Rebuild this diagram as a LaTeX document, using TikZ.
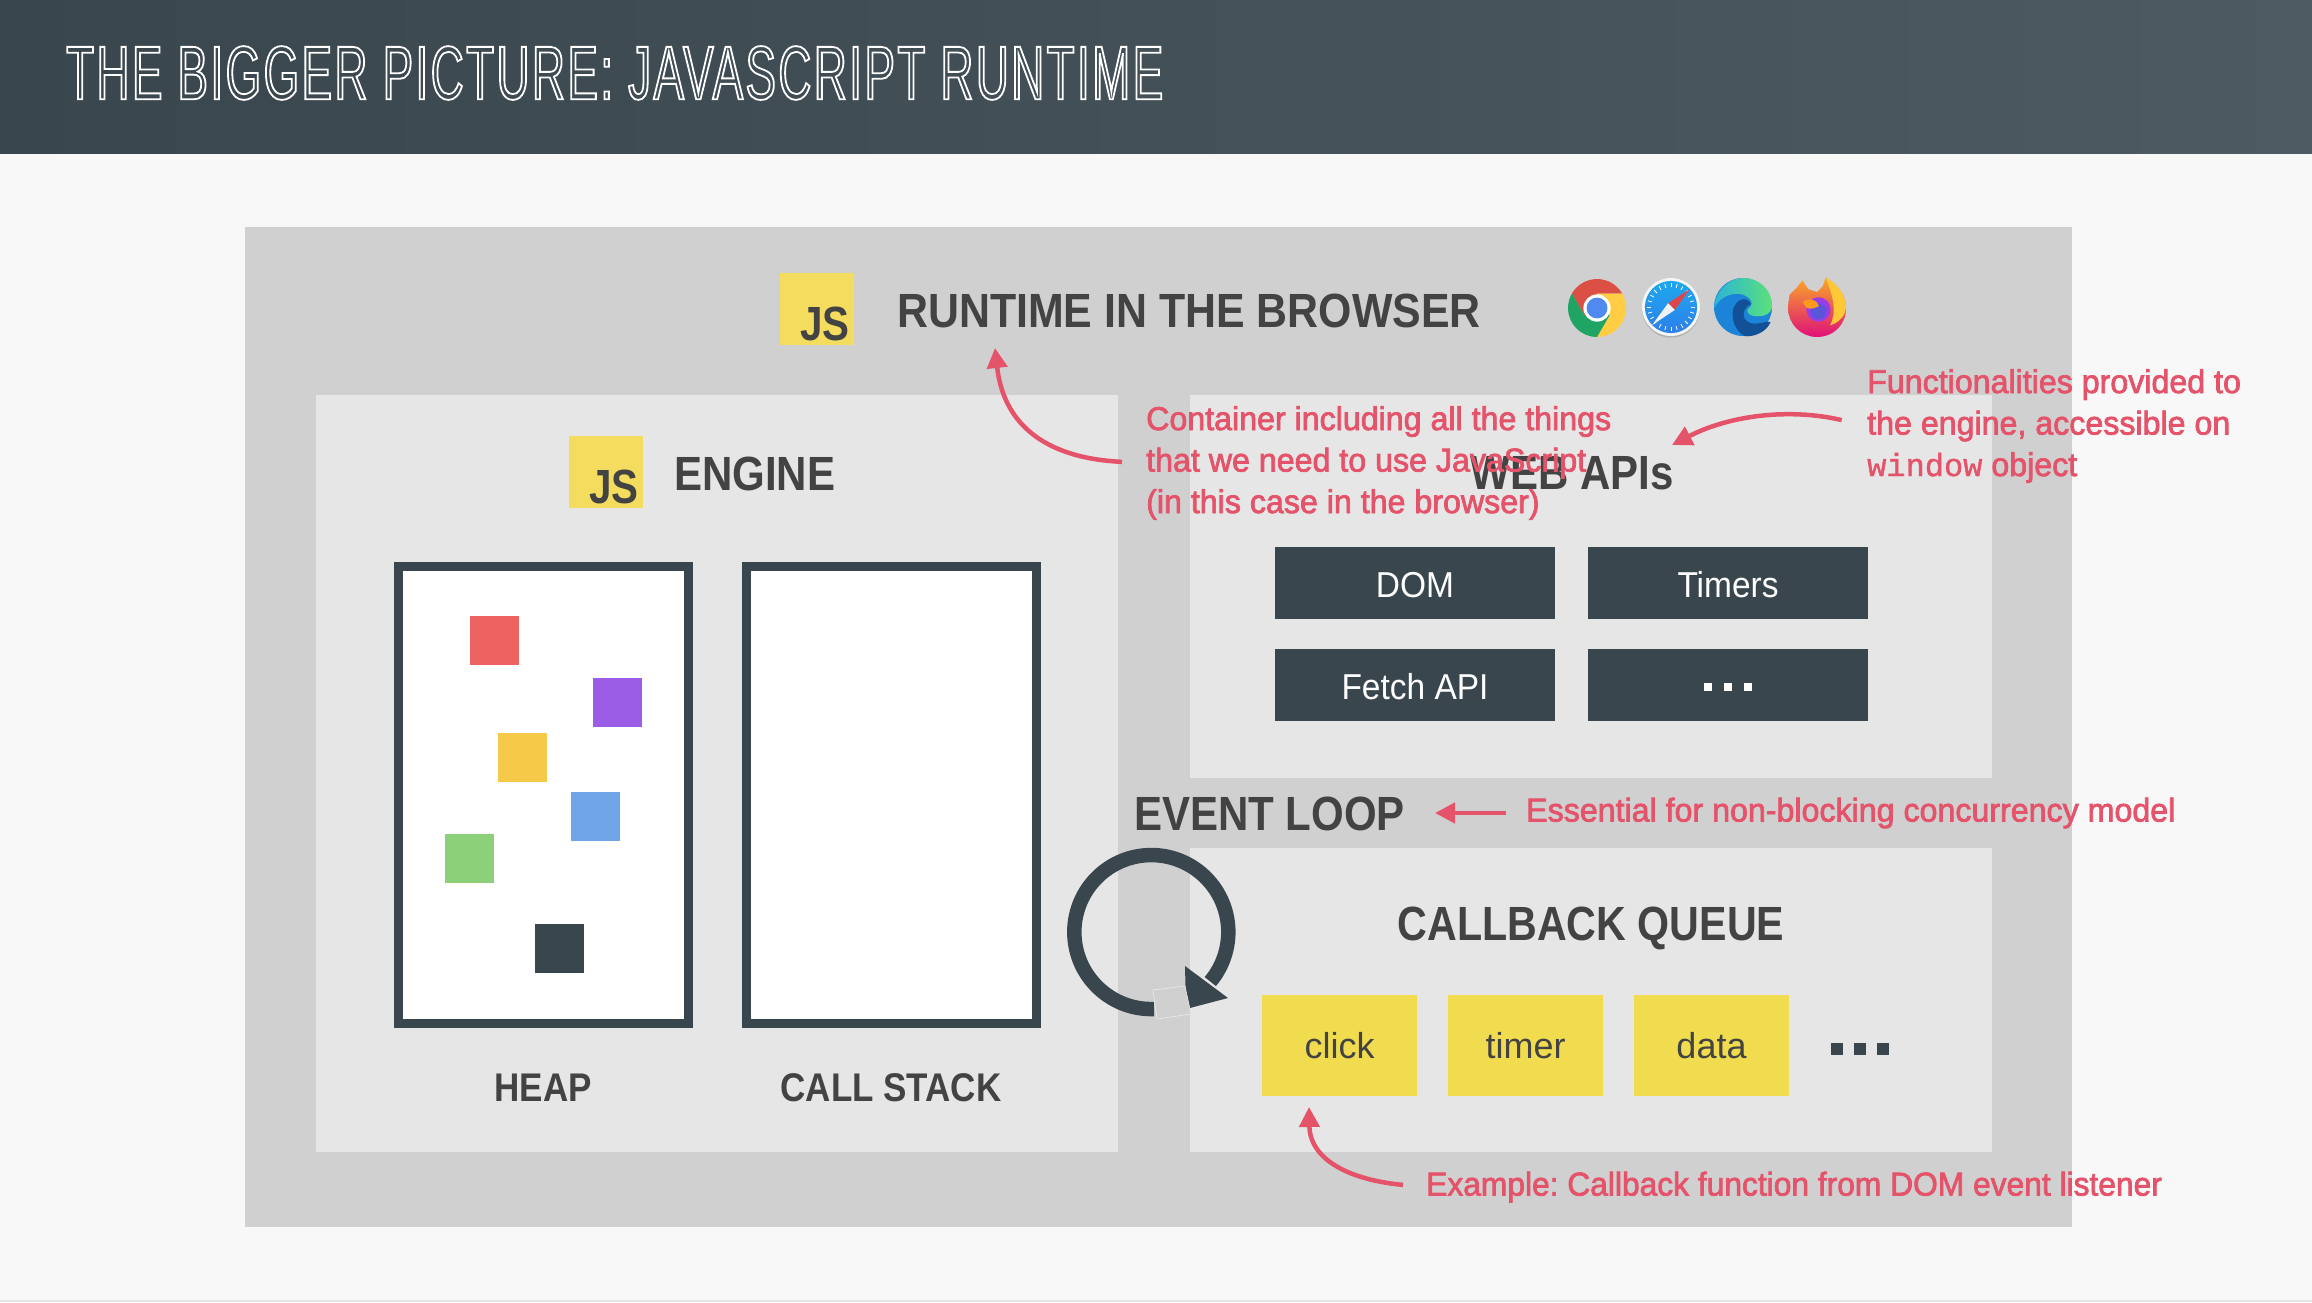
\documentclass[tikz,border=0pt]{standalone}
\usepackage{fontspec}
\setmainfont{Liberation Sans}
\newfontfamily\headfont{Liberation Sans}[FakeStretch=.875]
\newfontfamily\runtimefont{Liberation Sans}[FakeStretch=.893]
\newfontfamily\queuefont{Liberation Sans}[FakeStretch=.858]
\newfontfamily\jsfont{Liberation Sans}[FakeStretch=.84]
\newfontfamily\boxfont{Liberation Sans}[FakeStretch=.93]
\newfontfamily\notefont{Liberation Sans}[FakeStretch=.975,FakeBold=2.2]
\newfontfamily\examplefont{Liberation Sans}[FakeStretch=.962,FakeBold=2.2]
\newfontfamily\codefont{Liberation Mono}[FakeBold=1.2]
\newfontfamily\titlefont{Liberation Sans}[FakeStretch=.6,LetterSpace=3.3]
\usetikzlibrary{arrows.meta}
\definecolor{slate}{HTML}{3A464E}
\definecolor{slatelight}{HTML}{4C5A62}
\definecolor{pagebg}{HTML}{F8F8F8}
\definecolor{outerbg}{HTML}{D0D0D0}
\definecolor{innerbg}{HTML}{E6E6E6}
\definecolor{jsyellow}{HTML}{F4DD5E}
\definecolor{cbyellow}{HTML}{F0DC4E}
\definecolor{inktext}{HTML}{434343}
\definecolor{notered}{HTML}{E4536A}
\definecolor{edgeteal}{HTML}{2BB5D8}
\definecolor{edgegreen}{HTML}{5BE07A}
\definecolor{edgeblue}{HTML}{1B84D8}
\definecolor{edgedark}{HTML}{125098}
\definecolor{foxtop}{HTML}{F9A825}
\definecolor{foxmid}{HTML}{FF5B3A}
\definecolor{foxlow}{HTML}{E0107A}
\definecolor{foxflame}{HTML}{FFC837}
\definecolor{foxviolet}{HTML}{9A3DE8}
\definecolor{foxcore}{HTML}{5B55D8}
\definecolor{foxtail}{HTML}{FF9A1E}
\definecolor{safaritop}{HTML}{1EA8EE}
\definecolor{safarilow}{HTML}{2E7FEA}
\definecolor{safarired}{HTML}{E0454A}
\definecolor{chromeblue}{HTML}{4F8AF0}
\tikzset{
headlabel/.style = {font=\headfont\fontsize{48}{48}\selectfont\bfseries, text=inktext, inner sep=0pt},
smalllabel/.style = {font=\headfont\fontsize{40}{40}\selectfont\bfseries, text=inktext, inner sep=0pt},
memorybox/.style = {draw=slate, fill=white, line width=9pt, minimum width=290pt, minimum height=457pt, inner sep=0pt},
jsbox/.style = {fill=jsyellow, minimum width=74pt, minimum height=72pt, inner sep=0pt},
webbox/.style = {fill=slate, text=white, minimum width=280pt, minimum height=72pt, inner sep=0pt,
                 text height=29pt, text depth=0pt, font=\boxfont\fontsize{36}{36}\selectfont},
taskbox/.style = {fill=cbyellow, text=inktext, minimum width=155pt, minimum height=101pt, inner sep=0pt,
                  text height=26pt, text depth=0pt, font=\fontsize{36}{36}\selectfont},
heapitem/.style = {minimum size=49pt, inner sep=0pt},
notetext/.style = {font=\notefont\fontsize{33}{41.5}\selectfont, text=notered, inner sep=0pt, align=left},
notearrow/.style = {draw=notered, line width=4.5pt, -{Triangle[length=20pt,width=20pt]}}
}
\newcommand{\jslogo}[1]{\node[font=\jsfont\fontsize{48}{48}\selectfont\bfseries, text=inktext, inner sep=0pt, anchor=south east] at (#1) {JS};}
\begin{document}
\frenchspacing
\begin{tikzpicture}[x=1pt, y=-1pt]
\useasboundingbox (0,0) rectangle (2312,1302);
\fill[pagebg] (0,0) rectangle (2312,1302);
\fill[innerbg] (0,1300) rectangle (2312,1302);
\shade[left color=slate, right color=slatelight] (0,0) rectangle (2312,153);
\node[font=\titlefont\fontsize{76}{76}\selectfont, text=white, anchor=west, inner sep=0pt] (pagetitle) at (66,73)
    {\special{pdf:code 1 Tr 1.8 w}THE BIGGER PICTURE: JAVASCRIPT RUNTIME\special{pdf:code 0 Tr}};
%
\fill[outerbg] (245,227) rectangle (2072,1227);
\fill[innerbg] (316,395) rectangle (1118,1152);
\fill[innerbg] (1190,395) rectangle (1992,778);
\fill[innerbg] (1190,848) rectangle (1992,1152);
% title row
\node[jsbox] (runtimejs) at (817,309) {};
\jslogo{850,341}
\node[headlabel, anchor=west, font=\runtimefont\fontsize{48}{48}\selectfont\bfseries] (runtimetitle) at (897,311) {RUNTIME IN THE BROWSER};
%
\begin{scope}[shift={(1597,308)}, x=29pt, y=29pt]
\foreach \r/\c in {0/DB4F45, -120/FFCC43, 120/20A464} {
    \definecolor{piece}{HTML}{\c}
    \fill[piece, rotate=\r] (150:1) arc[start angle=150, end angle=30, radius=1] -- (0,.5) -- (0,0) -- (-.433,-.25) -- cycle;
}
\fill[white] (0,0) circle[radius=.47];
\fill[chromeblue] (0,0) circle[radius=.36];
\end{scope}
%
\begin{scope}[shift={(1671,307)}, x=29pt, y=29pt]
\fill[gray!60] (0,-.06) circle[radius=1];
\fill[white!92!gray] (0,0) circle[radius=1];
\shade[top color=safaritop, bottom color=safarilow] (0,0) circle[radius=.9];
\foreach \a in {0,15,...,345}
    \draw[white, line width=.8pt] (\a:.68) -- (\a:.82);
\fill[safarired] (.65,.62) -- (-.1,.13) -- (.13,-.1) -- cycle;
\fill[white!90!gray] (-.65,-.62) -- (-.1,.13) -- (.13,-.1) -- cycle;
\end{scope}
%
\begin{scope}[shift={(1743,307)}, x=29pt, y=29pt]
\fill[edgeblue] (0,0) circle[radius=1];
\shade[left color=edgeteal, right color=edgegreen]
    (-1,-.05) .. controls (-.95,.6) and (-.45,1) .. (0,1) .. controls (.6,1) and (1,.55) .. (1,.05)
    .. controls (1,-.2) and (.8,-.32) .. (.5,-.32) .. controls (.25,-.32) and (.12,-.22) .. (.15,-.1)
    .. controls (.3,.05) and (.4,.15) .. (.15,.35) .. controls (-.2,.6) and (-.8,.4) .. cycle;
\fill[edgedark]
    (-.35,-.1) .. controls (-.25,.25) and (.1,.42) .. (.28,.1) .. controls (.1,.05) and (-.05,-.2) .. (.05,-.4)
    .. controls (.3,-.75) and (.75,-.45) .. (.95,-.52) .. controls (.8,-.9) and (.3,-1.05) .. (.05,-1)
    .. controls (-.25,-.85) and (-.4,-.45) .. cycle;
\end{scope}
%
\begin{scope}[shift={(1817,308)}, x=29pt, y=29pt]
\shade[top color=foxtop, middle color=foxmid, bottom color=foxlow]
    (-.95,.45) -- (-.72,.68) -- (-.5,.95) -- (-.3,.65) -- (0,.55) -- (.2,.75) -- (.3,1.05)
    .. controls (.75,.8) and (1,.4) .. (1,0) .. controls (1,-.6) and (.55,-1) .. (0,-1)
    .. controls (-.55,-1) and (-1,-.55) .. (-1,0) -- cycle;
\fill[foxflame] (.3,1.05) .. controls (.75,.8) and (1,.4) .. (1,0) .. controls (.95,-.4) and (.6,-.55) .. (.45,-.6)
    .. controls (.7,-.1) and (.55,.4) .. cycle;
\fill[foxviolet] (.05,-.05) circle[radius=.42];
\fill[foxcore] (.05,-.12) circle[radius=.28];
\fill[foxtail] (-.5,.2) .. controls (-.2,.45) and (.1,.15) .. (.05,.05) .. controls (-.1,.0) and (-.2,-.05) .. (-.35,.0) -- cycle;
\end{scope}
% engine
\node[jsbox] (enginejs) at (606,472) {};
\jslogo{639,504}
\node[headlabel, anchor=west] (enginetitle) at (674,474) {ENGINE};
\node[memorybox] (heapbox) at (543,795) {};
\node[memorybox] (stackbox) at (891,795) {};
\node[smalllabel] (heaplabel) at (543,1088) {HEAP};
\node[smalllabel] (stacklabel) at (891,1088) {CALL STACK};
\foreach \n/\xp/\yp/\c in {red/494/640/EF6262, purple/617/702/9B5DE5, amber/522/757/F7C948,
                           sky/595/816/6EA6E8, lime/469/858/8CD17A, ink/559/948/3A464E}
    {\definecolor{itemcolor}{HTML}{\c}
     \node[heapitem, fill=itemcolor] (heap\n) at (\xp,\yp) {};}
% web apis
\node[headlabel] (webtitle) at (1572,473) {WEB APIs};
\node[webbox] (dombox) at (1415,583) {DOM};
\node[webbox] (timersbox) at (1728,583) {Timers};
\node[webbox] (fetchbox) at (1415,685) {Fetch API};
\node[webbox] (morebox) at (1728,685) {};
\foreach \xp in {-20,0,20}
    \fill[white] ([xshift=\xp pt]morebox.center) ++(-4,-2) rectangle ++(8,8);
% event loop
\node[headlabel, anchor=west] (looptitle) at (1134,814) {EVENT LOOP};
\draw[slate, line width=14.5pt] (1154,1009) arc[start angle=88, end angle=400, radius=77];
\fill[slate] (1185,966) -- (1228,998) -- (1186,1009) -- cycle;
\filldraw[fill=outerbg, draw=white!85!gray, line width=.6pt] (1153,990) -- (1185,986) -- (1191,1014) -- (1157,1019) -- cycle;
% callback queue
\node[headlabel, font=\queuefont\fontsize{48}{48}\selectfont\bfseries] (queuetitle) at (1591,928) {CALLBACK QUEUE};
\node[taskbox] (clickbox) at (1339.5,1045.5) {click};
\node[taskbox] (timerbox) at (1525.5,1045.5) {timer};
\node[taskbox] (databox) at (1711.5,1045.5) {data};
\node[inner sep=0pt, minimum size=1pt] (moretasks) at (1860,1049) {};
\foreach \xp in {-23,0,23}
    \fill[slate] ([xshift=\xp pt]moretasks.center) ++(-6,-6) rectangle ++(12,12);
% notes
\node[notetext, anchor=west] (containernote) at (1146,463)
    {Container including all the things\\that we need to use JavaScript\\(in this case in the browser)};
\node[notetext, anchor=west] (webnote) at (1867,426)
    {Functionalities provided to\\the engine, accessible on\\{\codefont\fontsize{32}{41.5}\selectfont window} object};
\node[notetext, anchor=west] (loopnote) at (1526,813) {Essential for non-blocking concurrency model};
\node[notetext, anchor=west, font=\examplefont\fontsize{33}{41.5}\selectfont] (clicknote) at (1426,1187) {Example: Callback function from DOM event listener};
%
\coordinate (runtimetip) at (995,348);
\coordinate (webtip) at (1672,445);
\coordinate (clicktip) at (1309,1107);
\draw[notearrow, shorten <=24pt] (containernote.west) .. controls (1040,458) and (1003,420) .. (runtimetip);
\draw[notearrow, shorten <=26pt] (webnote.west) .. controls (1790,408) and (1730,415) .. (webtip);
\draw[notearrow, shorten <=20pt] (loopnote.west) -- (1435,813);
\draw[notearrow, shorten <=23pt] (clicknote.west) .. controls (1350,1180) and (1310,1160) .. (clicktip);
\end{tikzpicture}
\end{document}
